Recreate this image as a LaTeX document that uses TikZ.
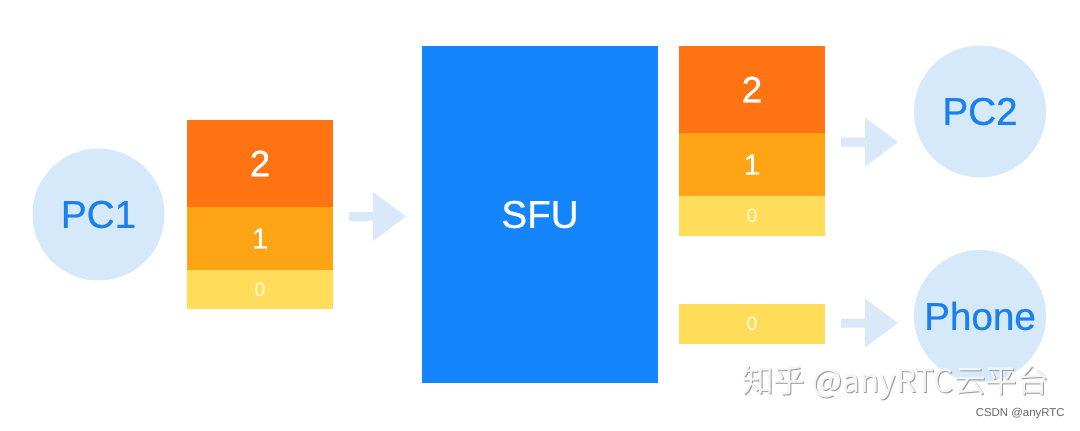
\documentclass[tikz,border=0pt]{standalone}
\usepackage{fontspec}
\setmainfont{Liberation Sans}
\newfontfamily\labelfont[FakeBold=0.7]{Liberation Sans}
\newfontfamily\cjkfont{Noto Sans CJK SC}
\definecolor{circfill}{HTML}{D6E9FB}
\definecolor{labelblue}{HTML}{1A80EC}
\definecolor{sfublue}{HTML}{1585FE}
\definecolor{layertwo}{HTML}{FF7313}
\definecolor{layerone}{HTML}{FFA515}
\definecolor{layerzero}{HTML}{FFDD5A}
\definecolor{arrowfill}{HTML}{D9E9FA}
\definecolor{wmshadow}{HTML}{9A9A9A}
\begin{document}
\begin{tikzpicture}[x=0.02cm,y=-0.02cm,
  client/.style={circle,fill=circfill,inner sep=0pt,minimum size=132*0.02cm,
    text=labelblue,font=\labelfont\fontsize{22}{24}\selectfont},
  layer/.style={rectangle,inner sep=0pt,minimum width=146*0.02cm,text=white},
  ltwo/.style={layer,fill=layertwo,minimum height=87*0.02cm,font=\labelfont\fontsize{21}{23}\selectfont},
  lone/.style={layer,fill=layerone,minimum height=63*0.02cm,font=\labelfont\fontsize{16.5}{18}\selectfont},
  lzero/.style={layer,fill=layerzero,minimum height=40*0.02cm,text=white!88!yellow,font=\fontsize{11}{12}\selectfont},
  fatarrow/.style={fill=arrowfill}]
\useasboundingbox (0,0) rectangle (1080,430);
\fill[white] (0,0) rectangle (1080,430);

% clients
\node[client] (pc1) at (98.5,214.5) {PC1};
\node[client] (pc2) at (980,111.5) {PC2};
\node[client] (phone) at (980,316) {Phone};

% SFU
\node[rectangle,fill=sfublue,inner sep=0pt,minimum width=236*0.02cm,minimum height=337*0.02cm,
  text=white,font=\labelfont\fontsize{22}{24}\selectfont] (sfu) at (540,214.5) {SFU};

% layer stack 1
\node[ltwo] (s1two) at (260,163.5) {2};
\node[lone] (s1one) at (260,238.5) {1};
\node[lzero,minimum height=39*0.02cm] (s1zero) at (260,289.5) {0};

% layer stack 2
\node[ltwo] (s2two) at (752,89.5) {2};
\node[lone] (s2one) at (752,164.5) {1};
\node[lzero] (s2zero) at (752,216) {0};

% single layer
\node[lzero] (s3zero) at (752,324) {0};

% fat arrows
\coordinate (a1) at (349,216.5);
\coordinate (a2) at (841,142);
\coordinate (a3) at (841,323);
\foreach \a in {a1,a2,a3}{
  \fill[fatarrow] (\a) ++(0,-4.5) -- ++(24,0) -- ++(0,-20) -- ++(33,24.5)
     -- ++(-33,24.5) -- ++(0,-20) -- ++(-24,0) -- cycle;
}

% watermark
\node[anchor=west,text=wmshadow,font=\cjkfont\fontsize{18}{20}\selectfont,inner sep=0pt] (wmshadowtext) at (743,384) {知乎 @anyRTC云平台};
\node[anchor=west,text=white!96!black,font=\cjkfont\fontsize{18}{20}\selectfont,inner sep=0pt] (wm) at (742,383) {知乎 @anyRTC云平台};
\node[anchor=east,text=black!60,font=\fontsize{6.5}{8}\selectfont,inner sep=0pt] (csdn) at (1065,414) {CSDN @anyRTC};
\end{tikzpicture}
\end{document}
